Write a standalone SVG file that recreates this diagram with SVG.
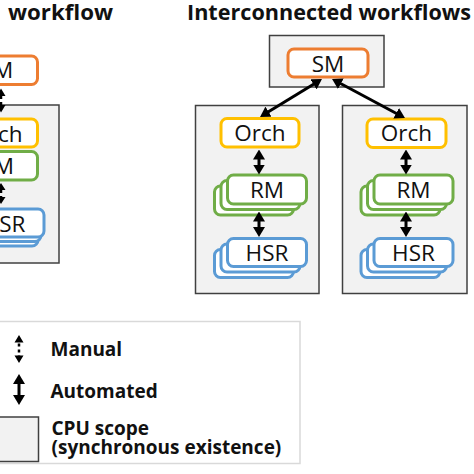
<svg xmlns="http://www.w3.org/2000/svg" width="474" height="474" viewBox="0 0 474 474">
<defs>
<style>
.title{font-family:"Open Sans","Liberation Sans",sans-serif;font-weight:bold;font-size:22px;fill:#111}
.lbl{font-family:"Open Sans","Liberation Sans",sans-serif;font-size:22.5px;fill:#111;text-anchor:middle}
.leg{font-family:"Open Sans","Liberation Sans",sans-serif;font-weight:bold;font-size:19px;fill:#111}
.cpu{fill:#f2f2f2;stroke:#404040;stroke-width:1.5}
.n{fill:#fff;stroke-width:3}
.sm{stroke:#ED7D31}.orch{stroke:#FFC000}.rm{stroke:#70AD47}.hsr{stroke:#5B9BD5}
.auto{stroke:#000;stroke-width:3;fill:none;marker-start:url(#ah);marker-end:url(#ah)}
.man{stroke:#000;stroke-width:2.5;fill:none;stroke-dasharray:3 3}
</style>
<marker id="ah" markerUnits="userSpaceOnUse" markerWidth="10" markerHeight="12" viewBox="0 0 10 12" refX="3" refY="6" orient="auto-start-reverse">
<path d="M0,0 L10,6 L0,12 z" fill="#000"/>
</marker>
</defs>

<text class="title" x="8" y="19.5" textLength="105" lengthAdjust="spacingAndGlyphs">workflow</text>
<text class="title" x="187" y="20" textLength="284" lengthAdjust="spacingAndGlyphs">Interconnected workflows</text>

<!-- left partial column -->
<g id="left-cpu"><rect class="cpu" x="-20" y="105" width="79" height="158"/></g>
<g id="left-sm"><rect class="n sm" x="-43" y="56" width="80.5" height="28.5" rx="6"/><text class="lbl" x="-3" y="78">SM</text></g>
<g id="left-orch"><rect class="n orch" x="-42" y="119" width="79.5" height="28" rx="6"/><text class="lbl" x="-3" y="141.5">Orch</text></g>
<g id="left-rm"><rect class="n rm" x="-42" y="151.5" width="79.5" height="28.5" rx="6"/><text class="lbl" x="-3" y="174">RM</text></g>
<g id="left-hsr">
<rect class="n hsr" x="-42" y="218" width="80" height="28" rx="6"/>
<rect class="n hsr" x="-39" y="213.5" width="80" height="28" rx="6"/>
<rect class="n hsr" x="-36" y="209" width="80" height="28" rx="6"/>
<text class="lbl" x="4" y="231.5">HSR</text></g>

<!-- right section -->
<g id="sm-cpu"><rect class="cpu" x="269.5" y="35.5" width="114.5" height="51.5"/></g>
<g id="cpu-a"><rect class="cpu" x="195.5" y="105.5" width="123.5" height="188"/></g>
<g id="cpu-b"><rect class="cpu" x="342.5" y="105.5" width="124.5" height="188"/></g>

<g id="sm"><rect class="n sm" x="288" y="49" width="80" height="28" rx="6"/><text class="lbl" x="328" y="71.5">SM</text></g>

<g id="orch-a"><rect class="n orch" x="221" y="118.5" width="78" height="28.5" rx="6"/><text class="lbl" x="260" y="141">Orch</text></g>
<g id="rm-a">
<rect class="n rm" x="214.5" y="186" width="79" height="29" rx="6"/>
<rect class="n rm" x="221" y="180.5" width="79" height="29" rx="6"/>
<rect class="n rm" x="227.5" y="175" width="79" height="29" rx="6"/>
<text class="lbl" x="267" y="197.5">RM</text></g>
<g id="hsr-a">
<rect class="n hsr" x="214.5" y="249.5" width="79" height="28" rx="6"/>
<rect class="n hsr" x="221" y="244" width="79" height="28" rx="6"/>
<rect class="n hsr" x="227.5" y="238.5" width="79" height="28" rx="6"/>
<text class="lbl" x="267" y="260.5">HSR</text></g>

<g id="orch-b"><rect class="n orch" x="367" y="119" width="79" height="28.5" rx="6"/><text class="lbl" x="406.5" y="141">Orch</text></g>
<g id="rm-b">
<rect class="n rm" x="361" y="186" width="79" height="29" rx="6"/>
<rect class="n rm" x="367.5" y="180.5" width="79" height="29" rx="6"/>
<rect class="n rm" x="374" y="175" width="79" height="29" rx="6"/>
<text class="lbl" x="413.5" y="197.5">RM</text></g>
<g id="hsr-b">
<rect class="n hsr" x="361" y="249.5" width="79" height="28" rx="6"/>
<rect class="n hsr" x="367.5" y="244" width="79" height="28" rx="6"/>
<rect class="n hsr" x="374" y="238.5" width="79" height="28" rx="6"/>
<text class="lbl" x="413.5" y="260.5">HSR</text></g>

<g id="connectors">
<line class="auto" x1="316" y1="82.7" x2="266" y2="113.3"/>
<line class="auto" x1="338.2" y1="82.3" x2="398.8" y2="114.7"/>
<line class="auto" x1="259" y1="156.5" x2="259" y2="167.5"/>
<line class="auto" x1="406" y1="156.5" x2="406" y2="167.5"/>
<line class="auto" x1="259" y1="218.5" x2="259" y2="230"/>
<line class="auto" x1="406" y1="218.5" x2="406" y2="230"/>
<!-- left manual arrows -->
<path d="M-3.5,96 L1,88.5 L5.5,96 z M-3.5,105 L1,112.5 L5.5,105 z" fill="#000"/>
<line class="man" x1="1" y1="96" x2="1" y2="105"/>
<path d="M-3.5,190 L1,183 L5.5,190 z M-3.5,197 L1,204 L5.5,197 z" fill="#000"/>
<line class="man" x1="1" y1="190" x2="1" y2="197"/>
</g>

<!-- legend -->
<g id="legend">
<rect x="-10" y="321.5" width="310" height="142" fill="#fff" stroke="#d9d9d9" stroke-width="1.5"/>
<path d="M14.5,342.5 L19,335 L23.5,342.5 z M14.5,355.5 L19,363 L23.5,355.5 z" fill="#000"/>
<line class="man" x1="19" y1="342.5" x2="19" y2="356" stroke-dasharray="2.5 3" stroke-dashoffset="-1"/>
<text class="leg" x="50.5" y="356">Manual</text>
<line class="auto" x1="19" y1="381" x2="19" y2="398"/>
<text class="leg" x="50.5" y="398">Automated</text>
<rect class="cpu" x="-10" y="417" width="48.5" height="44.5"/>
<text class="leg" x="51.5" y="435">CPU scope</text>
<text class="leg" x="51.5" y="454">(synchronous existence)</text>
</g>
</svg>
